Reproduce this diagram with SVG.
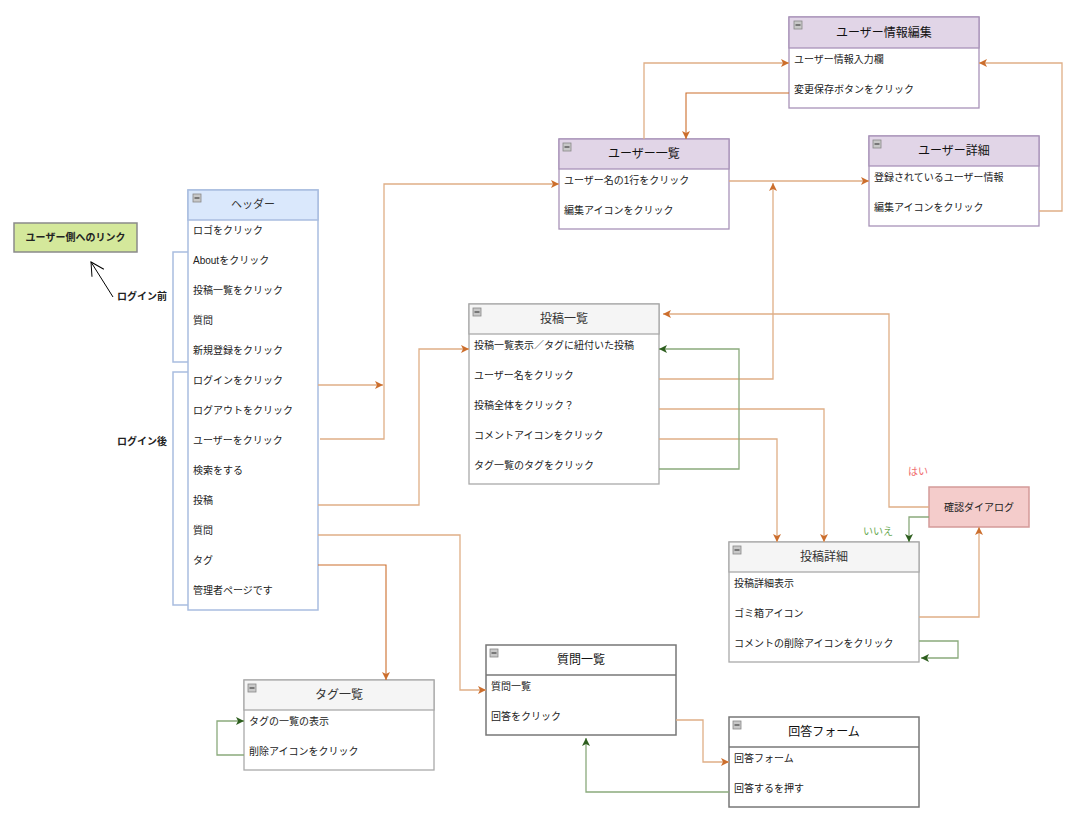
<svg xmlns="http://www.w3.org/2000/svg" width="1088" height="822" viewBox="0 0 1088 822">
<defs>
<style>
text{font-family:"Liberation Sans","Noto Sans CJK JP",sans-serif;fill:#222;}
.it{font-size:10px;}
.tt{font-size:12px;text-anchor:middle;fill:#333;}
.ttb{font-size:12px;text-anchor:middle;fill:#111;}
.bd{font-size:10px;font-weight:bold;}
.o{fill:none;stroke:#dfae86;stroke-width:1.3;}
.od{fill:none;stroke:#cc6e2c;stroke-width:1.1;}
.g{fill:none;stroke:#8aaa7c;stroke-width:1.3;}
.ic{fill:#c8c8c8;stroke:#888;stroke-width:0.8;}
.icl{stroke:#444;stroke-width:1.2;}
</style>
<marker id="ao" markerUnits="userSpaceOnUse" markerWidth="10" markerHeight="10" refX="8" refY="4" orient="auto"><path d="M0,0 L8,4 L0,8 L2,4 Z" fill="#cc6e2c"/></marker>
<marker id="ag" markerUnits="userSpaceOnUse" markerWidth="10" markerHeight="10" refX="8" refY="4" orient="auto"><path d="M0,0 L8,4 L0,8 L2,4 Z" fill="#2d5e1e"/></marker>
<marker id="ab" markerUnits="userSpaceOnUse" markerWidth="16" markerHeight="16" refX="14" refY="8" orient="auto"><path d="M1,1 L14,8 L1,15" fill="none" stroke="#000" stroke-width="1"/></marker>
</defs>
<rect width="1088" height="822" fill="#fff"/>

<g id="link">
<rect x="14" y="223" width="123" height="29" fill="#d4e89b" stroke="#8a8a8a" stroke-width="1.5"/>
<text class="bd" x="75.5" y="241" text-anchor="middle">ユーザー側へのリンク</text>
</g>

<g id="labels">
<text class="bd" x="117" y="300">ログイン前</text>
<text class="bd" x="117" y="445">ログイン後</text>
<text x="908" y="475" style="font-size:10px;fill:#f06a6a;">はい</text>
<text x="863" y="535" style="font-size:10px;fill:#6aaa55;">いいえ</text>
</g>

<g id="brackets" fill="none" stroke="#a9bde0" stroke-width="1.5">
<path d="M203,252 H173 V362 H203"/>
<path d="M203,372 H173 V605 H203"/>
</g>

<g id="header">
<rect x="188" y="190" width="130" height="420" fill="#fff" stroke="#a9bde0" stroke-width="1.5"/>
<rect x="188" y="190" width="130" height="30" fill="#dae8fc" stroke="#a9bde0" stroke-width="1.5"/>
<rect class="ic" x="193" y="194" width="8" height="8"/><line class="icl" x1="194.5" y1="198" x2="199.5" y2="198"/>
<text x="253" y="208" style="font-size:11px;text-anchor:middle;fill:#333;">ヘッダー</text>
<text class="it" x="193" y="234">ロゴをクリック</text>
<text class="it" x="193" y="264">Aboutをクリック</text>
<text class="it" x="193" y="294">投稿一覧をクリック</text>
<text class="it" x="193" y="324">質問</text>
<text class="it" x="193" y="354">新規登録をクリック</text>
<text class="it" x="193" y="384">ログインをクリック</text>
<text class="it" x="193" y="414">ログアウトをクリック</text>
<text class="it" x="193" y="444">ユーザーをクリック</text>
<text class="it" x="193" y="474">検索をする</text>
<text class="it" x="193" y="504">投稿</text>
<text class="it" x="193" y="534">質問</text>
<text class="it" x="193" y="564">タグ</text>
<text class="it" x="193" y="594">管理者ページです</text>
</g>

<g id="userEdit">
<rect x="789" y="17" width="190" height="91" fill="#fff" stroke="#a893b8" stroke-width="1.3"/>
<rect x="789" y="17" width="190" height="31" fill="#e1d5e7" stroke="#a893b8" stroke-width="1.3"/>
<rect class="ic" x="794" y="21" width="8" height="8"/><line class="icl" x1="795.5" y1="25" x2="800.5" y2="25"/>
<text class="ttb" x="884" y="37">ユーザー情報編集</text>
<text class="it" x="794" y="63">ユーザー情報入力欄</text>
<text class="it" x="794" y="93">変更保存ボタンをクリック</text>
</g>

<g id="userList">
<rect x="559" y="139" width="170" height="90" fill="#fff" stroke="#a893b8" stroke-width="1.3"/>
<rect x="559" y="139" width="170" height="30" fill="#e1d5e7" stroke="#a893b8" stroke-width="1.3"/>
<rect class="ic" x="563" y="143" width="8" height="8"/><line class="icl" x1="564.5" y1="147" x2="569.5" y2="147"/>
<text class="ttb" x="644" y="158">ユーザー一覧</text>
<text class="it" x="564" y="184">ユーザー名の1行をクリック</text>
<text class="it" x="564" y="214">編集アイコンをクリック</text>
</g>

<g id="userDetail">
<rect x="869" y="136" width="170" height="90" fill="#fff" stroke="#a893b8" stroke-width="1.3"/>
<rect x="869" y="136" width="170" height="30" fill="#e1d5e7" stroke="#a893b8" stroke-width="1.3"/>
<rect class="ic" x="873" y="140" width="8" height="8"/><line class="icl" x1="874.5" y1="144" x2="879.5" y2="144"/>
<text class="ttb" x="954" y="155">ユーザー詳細</text>
<text class="it" x="874" y="181">登録されているユーザー情報</text>
<text class="it" x="874" y="211">編集アイコンをクリック</text>
</g>

<g id="postList">
<rect x="469" y="304" width="190" height="180" fill="#fff" stroke="#aaaaaa" stroke-width="1.3"/>
<rect x="469" y="304" width="190" height="30" fill="#f5f5f5" stroke="#aaaaaa" stroke-width="1.3"/>
<rect class="ic" x="473" y="308" width="8" height="8"/><line class="icl" x1="474.5" y1="312" x2="479.5" y2="312"/>
<text class="tt" x="564" y="323">投稿一覧</text>
<text class="it" x="474" y="349">投稿一覧表示／タグに紐付いた投稿</text>
<text class="it" x="474" y="379">ユーザー名をクリック</text>
<text class="it" x="474" y="409">投稿全体をクリック？</text>
<text class="it" x="474" y="439">コメントアイコンをクリック</text>
<text class="it" x="474" y="469">タグ一覧のタグをクリック</text>
</g>

<g id="confirm">
<rect x="929" y="487" width="100" height="40" fill="#f4cccb" stroke="#d49a99" stroke-width="1.5"/>
<text x="979" y="511" style="font-size:10px;text-anchor:middle;fill:#222;">確認ダイアログ</text>
</g>

<g id="postDetail">
<rect x="729" y="542" width="190" height="120" fill="#fff" stroke="#aaaaaa" stroke-width="1.3"/>
<rect x="729" y="542" width="190" height="30" fill="#f5f5f5" stroke="#aaaaaa" stroke-width="1.3"/>
<rect class="ic" x="733" y="546" width="8" height="8"/><line class="icl" x1="734.5" y1="550" x2="739.5" y2="550"/>
<text class="tt" x="824" y="561">投稿詳細</text>
<text class="it" x="734" y="587">投稿詳細表示</text>
<text class="it" x="734" y="617">ゴミ箱アイコン</text>
<text class="it" x="734" y="647">コメントの削除アイコンをクリック</text>
</g>

<g id="tagList">
<rect x="244" y="680" width="190" height="90" fill="#fff" stroke="#aaaaaa" stroke-width="1.3"/>
<rect x="244" y="680" width="190" height="30" fill="#f5f5f5" stroke="#aaaaaa" stroke-width="1.3"/>
<rect class="ic" x="248" y="684" width="8" height="8"/><line class="icl" x1="249.5" y1="688" x2="254.5" y2="688"/>
<text class="tt" x="339" y="699">タグ一覧</text>
<text class="it" x="249" y="725">タグの一覧の表示</text>
<text class="it" x="249" y="755">削除アイコンをクリック</text>
</g>

<g id="questionList">
<rect x="486" y="645" width="190" height="90" fill="#fff" stroke="#777" stroke-width="1.5"/>
<line x1="486" y1="675" x2="676" y2="675" stroke="#777" stroke-width="1.5"/>
<rect class="ic" x="490" y="649" width="8" height="8"/><line class="icl" x1="491.5" y1="653" x2="496.5" y2="653"/>
<text class="ttb" x="581" y="664">質問一覧</text>
<text class="it" x="491" y="690">質問一覧</text>
<text class="it" x="491" y="720">回答をクリック</text>
</g>

<g id="answerForm">
<rect x="729" y="717" width="190" height="90" fill="#fff" stroke="#777" stroke-width="1.5"/>
<line x1="729" y1="747" x2="919" y2="747" stroke="#777" stroke-width="1.5"/>
<rect class="ic" x="733" y="721" width="8" height="8"/><line class="icl" x1="734.5" y1="725" x2="739.5" y2="725"/>
<text class="ttb" x="824" y="736">回答フォーム</text>
<text class="it" x="734" y="762">回答フォーム</text>
<text class="it" x="734" y="792">回答するを押す</text>
</g>

<g id="connectors">
<path class="o" d="M318,385 H383" marker-end="url(#ao)"/>
<path class="o" d="M320,439 H384 V184 H559" marker-end="url(#ao)"/>
<path class="o" d="M318,505 H419 V349 H469" marker-end="url(#ao)"/>
<path class="o" d="M318,535 H460 V690 H486" marker-end="url(#ao)"/>
<path class="od" d="M318,565 H386 V680" marker-end="url(#ao)"/>
<path class="o" d="M644,139 V63 H789" marker-end="url(#ao)"/>
<path class="od" d="M789,93 H686 V139" marker-end="url(#ao)"/>
<path class="o" d="M729,181 H869" marker-end="url(#ao)"/>
<path class="o" d="M1039,211 H1062 V63 H979" marker-end="url(#ao)"/>
<path class="o" d="M659,379 H773 V183" marker-end="url(#ao)"/>
<path class="o" d="M659,409 H824 V542" marker-end="url(#ao)"/>
<path class="o" d="M659,439 H777 V542" marker-end="url(#ao)"/>
<path class="g" d="M659,469 H739 V349 H659" marker-end="url(#ag)"/>
<path class="o" d="M929,507 H889 V314 H663" marker-end="url(#ao)"/>
<path class="g" d="M929,517 H909 V542" marker-end="url(#ag)"/>
<path class="o" d="M919,617 H979 V527" marker-end="url(#ao)"/>
<path class="g" d="M919,641 H958 V658 H921" marker-end="url(#ag)"/>
<path class="o" d="M676,720 H703 V762 H729" marker-end="url(#ao)"/>
<path class="g" d="M729,792 H586 V738" marker-end="url(#ag)"/>
<path class="g" d="M244,755 H217 V721 H244" marker-end="url(#ag)"/>
<path d="M113,297 L91,262" fill="none" stroke="#000" stroke-width="1" marker-end="url(#ab)"/>
</g>
</svg>
